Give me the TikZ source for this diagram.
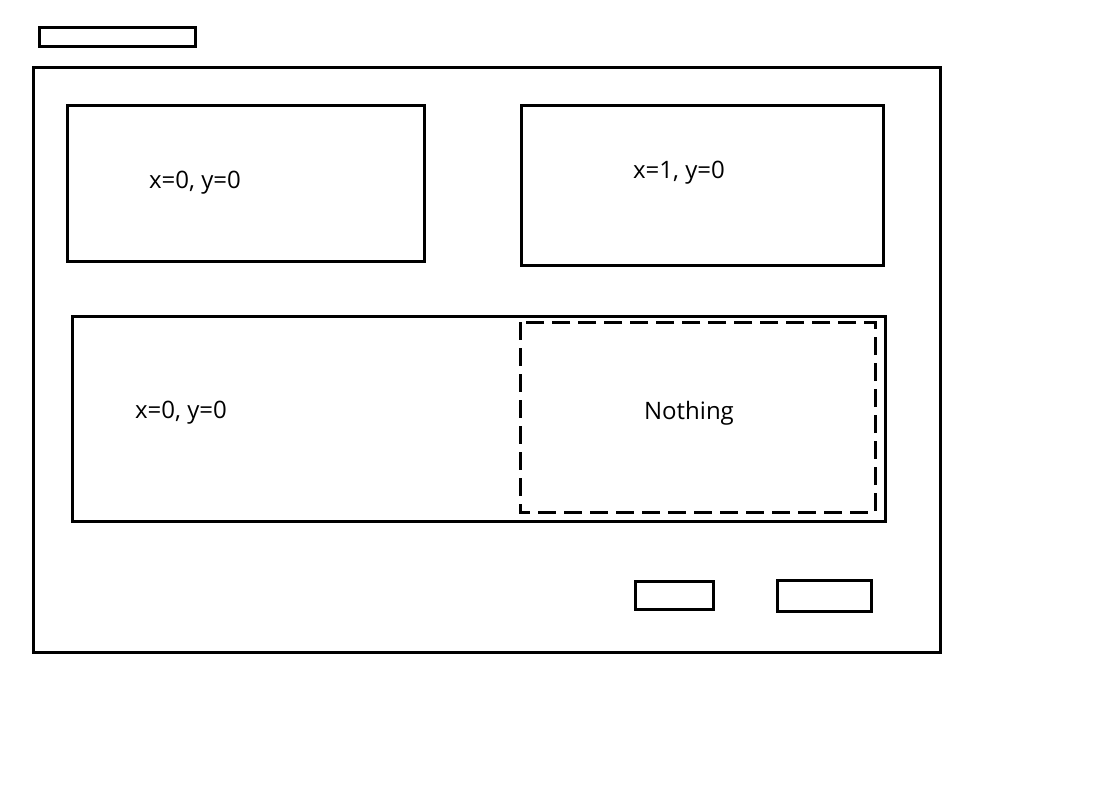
\documentclass[tikz,border=0pt]{standalone}
\usepackage{fontspec}
\setmainfont{Open Sans}
\begin{document}
\begin{tikzpicture}[x=1pt,y=-1pt,
  box/.style={draw,line width=3pt},
  lbl/.style={font=\fontsize{24}{28}\selectfont}]
\useasboundingbox (0,0) rectangle (1096,793);
\draw[box] (39,27) rectangle (195,46);
\draw[box] (33,67) rectangle (940,652);
\draw[box] (67,105) rectangle (424,261);
\node[lbl] (t1) at (195,183) {x=0, y=0};
\draw[box] (521,105) rectangle (883,265);
\node[lbl] (t2) at (679,173) {x=1, y=0};
\draw[box] (72,316) rectangle (885,521);
\node[lbl] (t3) at (181,413) {x=0, y=0};
\draw[box,dash pattern=on 18pt off 8pt] (520,322) rectangle (875,512);
\node[lbl] (t4) at (689,413) {Nothing};
\draw[box] (635,581) rectangle (713,609);
\draw[box] (777,580) rectangle (871,611);
\end{tikzpicture}
\end{document}
